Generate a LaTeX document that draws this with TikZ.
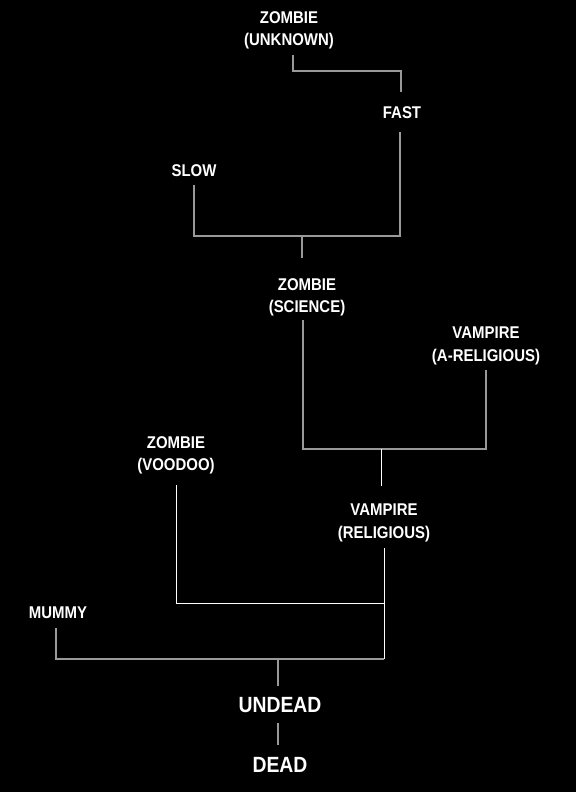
\documentclass[tikz,border=0pt]{standalone}
\usepackage{fontspec}
\newfontfamily\lab[FakeStretch=0.88]{Liberation Sans}
\begin{document}
\begin{tikzpicture}[x=1pt,y=-1pt,
  lbl/.style={text=white,font=\lab\bfseries\fontsize{17}{22.5}\selectfont,align=center,inner sep=0pt,anchor=north},
  big/.style={lbl,font=\lab\bfseries\fontsize{22}{26}\selectfont},
  gl/.style={draw=white!60!black,line width=1.3pt},
  wl/.style={draw=white,line width=0.9pt}]
\fill[black] (0,0) rectangle (576,792);
\useasboundingbox (0,0) rectangle (576,792);
% nodes
\node[lbl] (zu) at (289,11) {ZOMBIE\\(UNKNOWN)};
\node[lbl] (fast) at (402,106) {FAST};
\node[lbl] (slow) at (194,164) {SLOW};
\node[lbl] (zs) at (307,278) {ZOMBIE\\(SCIENCE)};
\node[lbl] (var) at (486,327) {VAMPIRE\\(A-RELIGIOUS)};
\node[lbl] (zv) at (176,436) {ZOMBIE\\(VOODOO)};
\node[lbl] (vr) at (384,504) {VAMPIRE\\(RELIGIOUS)};
\node[lbl] (mummy) at (58,607) {MUMMY};
\node[big] (undead) at (280,697) {UNDEAD};
\node[big] (dead) at (280,757) {DEAD};
% junctions
\coordinate (j0) at (401,71);
\coordinate (j1) at (302,236);
\coordinate (j2) at (381,449);
\coordinate (j3) at (384,603);
\coordinate (j5) at (384,659);
\coordinate (j4) at (278,659);
% connectors
\draw[gl] ([shift={(4,6)}]zu.south) |- (j0) -- ([shift={(-1,-14)}]fast.north);
\draw[gl] ([shift={(0,9)}]slow.south) |- (j1) -| ([shift={(-2,14)}]fast.south);
\draw[gl] (j1) -- ([shift={(-5,-20)}]zs.north);
\draw[gl] ([shift={(-4,4)}]zs.south) |- (j2) -| ([shift={(0,5)}]var.south);
\draw[wl] (j2) -- ([shift={(-3,-18)}]vr.north);
\draw[wl] ([shift={(0,11)}]zv.south) |- (j3);
\draw[wl] ([shift={(0,6)}]vr.south) -- (j5);
\draw[gl] ([shift={(-2,9)}]mummy.south) |- (j5);
\draw[gl] (j4) -- ([shift={(-2,-11)}]undead.north);
\draw[gl] ([shift={(-2,10)}]undead.south) -- ([shift={(-2,-12)}]dead.north);
\end{tikzpicture}
\end{document}
